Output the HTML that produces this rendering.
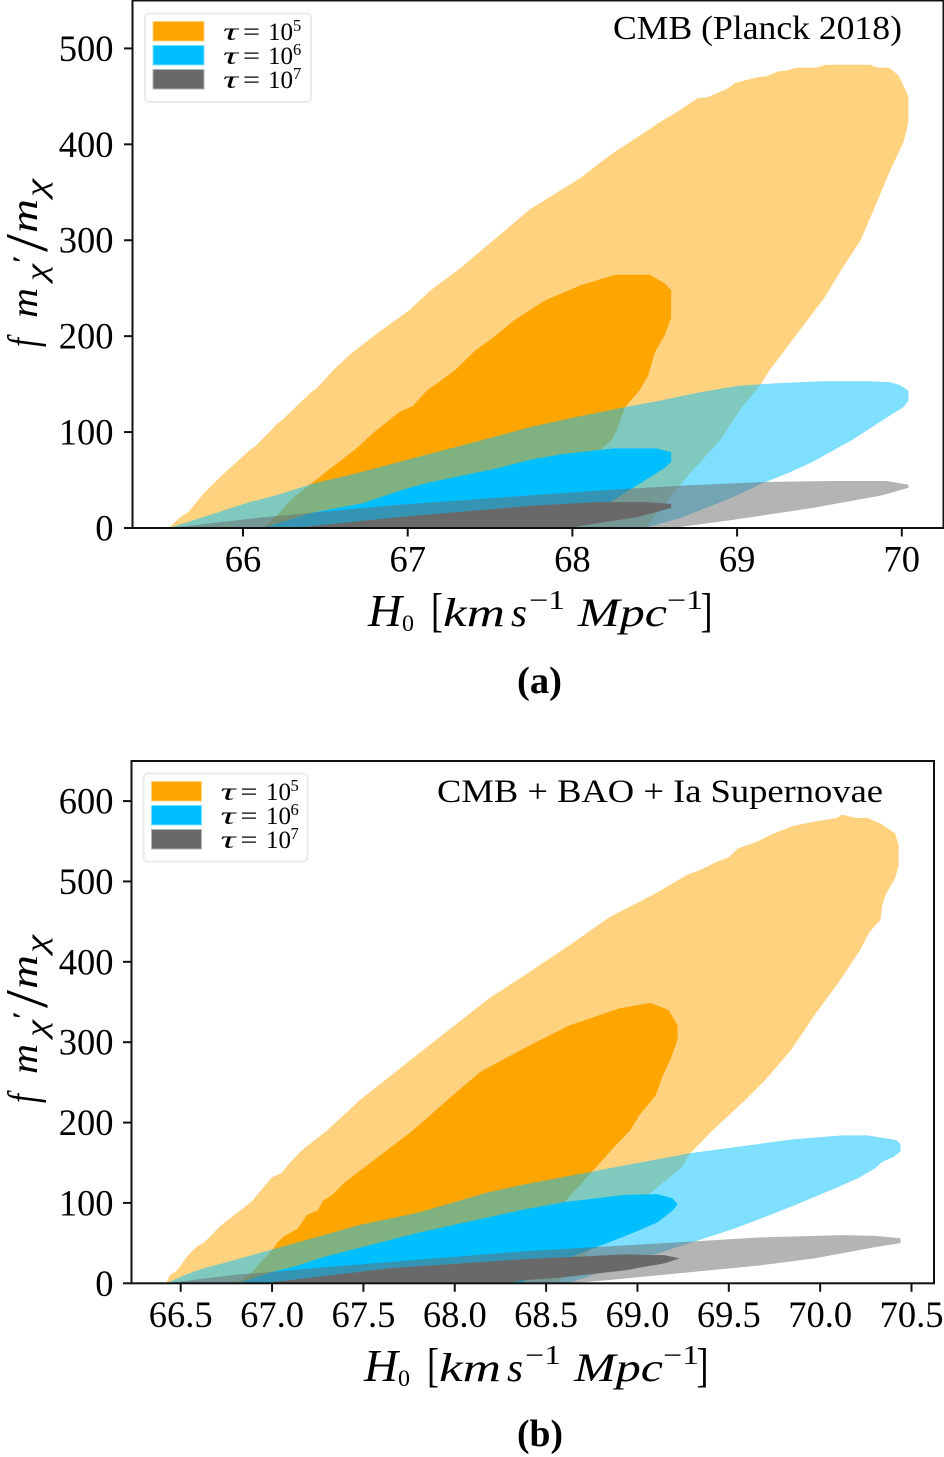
<!DOCTYPE html>
<html lang="en">
<head>
<meta charset="utf-8">
<title>Allowed regions of f m_chi'/m_chi versus H0</title>
<style>
html,body{margin:0;padding:0;background:#fff;}
svg{display:block;}
text{font-family:"Liberation Serif",serif;fill:#000;}
.i{font-style:italic;}
</style>
</head>
<body>
<svg id="figure" xmlns="http://www.w3.org/2000/svg" width="944" height="1457" viewBox="0 0 944 1457">
  <rect x="0" y="0" width="944" height="1457" fill="#fff"/>

  <g id="panel-a"><g id="a-marks"></g><g id="a-axes"></g></g>
  <g id="panel-b"><g id="b-marks"></g><g id="b-axes"></g></g>

  <!-- Panel a legend -->
  <g>
    <rect x="145" y="13.5" width="166" height="88.5" rx="4" fill="#fff" stroke="#ebebeb" stroke-width="2"/>
    <rect x="153" y="21.5" width="51" height="19.5" fill="#ffa500" stroke="#ffd280"/>
    <rect x="153" y="45.5" width="51" height="19.5" fill="#00bfff" stroke="#7fdfff"/>
    <rect x="153" y="69.5" width="51" height="19.5" fill="#696969" stroke="#b4b4b4"/>
    <g font-size="25">
      <text class="i" x="223" y="40" textLength="15" lengthAdjust="spacingAndGlyphs">τ</text>
      <text x="243" y="40" textLength="17" lengthAdjust="spacingAndGlyphs">=</text>
      <text x="268" y="40" textLength="25" lengthAdjust="spacingAndGlyphs">10</text>
      <text x="293" y="31" font-size="16.5">5</text>
    </g>
    <g font-size="25">
      <text class="i" x="223" y="64" textLength="15" lengthAdjust="spacingAndGlyphs">τ</text>
      <text x="243" y="64" textLength="17" lengthAdjust="spacingAndGlyphs">=</text>
      <text x="268" y="64" textLength="25" lengthAdjust="spacingAndGlyphs">10</text>
      <text x="293" y="55" font-size="16.5">6</text>
    </g>
    <g font-size="25">
      <text class="i" x="223" y="88" textLength="15" lengthAdjust="spacingAndGlyphs">τ</text>
      <text x="243" y="88" textLength="17" lengthAdjust="spacingAndGlyphs">=</text>
      <text x="268" y="88" textLength="25" lengthAdjust="spacingAndGlyphs">10</text>
      <text x="293" y="79" font-size="16.5">7</text>
    </g>
  </g>
  <text x="613" y="39" font-size="34" textLength="289" lengthAdjust="spacingAndGlyphs">CMB (Planck 2018)</text>

  <!-- Panel b legend -->
  <g>
    <rect x="143.5" y="773.5" width="164" height="88" rx="4" fill="#fff" stroke="#ebebeb" stroke-width="2"/>
    <rect x="151.5" y="781.5" width="50" height="19.5" fill="#ffa500" stroke="#ffd280"/>
    <rect x="151.5" y="805.5" width="50" height="19.5" fill="#00bfff" stroke="#7fdfff"/>
    <rect x="151.5" y="829.5" width="50" height="19.5" fill="#696969" stroke="#b4b4b4"/>
    <g font-size="25">
      <text class="i" x="220.5" y="800" textLength="15" lengthAdjust="spacingAndGlyphs">τ</text>
      <text x="240.5" y="800" textLength="17" lengthAdjust="spacingAndGlyphs">=</text>
      <text x="266" y="800" textLength="25" lengthAdjust="spacingAndGlyphs">10</text>
      <text x="290.5" y="791" font-size="16.5">5</text>
    </g>
    <g font-size="25">
      <text class="i" x="220.5" y="824" textLength="15" lengthAdjust="spacingAndGlyphs">τ</text>
      <text x="240.5" y="824" textLength="17" lengthAdjust="spacingAndGlyphs">=</text>
      <text x="266" y="824" textLength="25" lengthAdjust="spacingAndGlyphs">10</text>
      <text x="290.5" y="815" font-size="16.5">6</text>
    </g>
    <g font-size="25">
      <text class="i" x="220.5" y="848" textLength="15" lengthAdjust="spacingAndGlyphs">τ</text>
      <text x="240.5" y="848" textLength="17" lengthAdjust="spacingAndGlyphs">=</text>
      <text x="266" y="848" textLength="25" lengthAdjust="spacingAndGlyphs">10</text>
      <text x="290.5" y="839" font-size="16.5">7</text>
    </g>
  </g>
  <text x="437" y="802" font-size="33" textLength="446" lengthAdjust="spacingAndGlyphs">CMB + BAO + Ia Supernovae</text>

  <!-- Panel a x title -->
  <g>
    <text class="i" x="368" y="626" font-size="46" textLength="34" lengthAdjust="spacingAndGlyphs">H</text>
    <text x="402" y="631" font-size="23" textLength="12" lengthAdjust="spacingAndGlyphs">0</text>
    <text x="431" y="626" font-size="48" textLength="12" lengthAdjust="spacingAndGlyphs">[</text>
    <text class="i" x="443" y="626" font-size="40" textLength="62" lengthAdjust="spacingAndGlyphs">km</text>
    <text class="i" x="511" y="626" font-size="40" textLength="16" lengthAdjust="spacingAndGlyphs">s</text>
    <text x="529" y="609" font-size="27" textLength="36" lengthAdjust="spacingAndGlyphs">−1</text>
    <text class="i" x="578" y="626" font-size="40" textLength="89" lengthAdjust="spacingAndGlyphs">Mpc</text>
    <text x="667" y="609" font-size="27" textLength="36" lengthAdjust="spacingAndGlyphs">−1</text>
    <text x="700.5" y="626" font-size="48" textLength="12" lengthAdjust="spacingAndGlyphs">]</text>
  </g>
  <!-- Panel b x title -->
  <g transform="translate(-4,755)">
    <text class="i" x="368" y="626" font-size="46" textLength="34" lengthAdjust="spacingAndGlyphs">H</text>
    <text x="402" y="631" font-size="23" textLength="12" lengthAdjust="spacingAndGlyphs">0</text>
    <text x="431" y="626" font-size="48" textLength="12" lengthAdjust="spacingAndGlyphs">[</text>
    <text class="i" x="443" y="626" font-size="40" textLength="62" lengthAdjust="spacingAndGlyphs">km</text>
    <text class="i" x="511" y="626" font-size="40" textLength="16" lengthAdjust="spacingAndGlyphs">s</text>
    <text x="529" y="609" font-size="27" textLength="36" lengthAdjust="spacingAndGlyphs">−1</text>
    <text class="i" x="578" y="626" font-size="40" textLength="89" lengthAdjust="spacingAndGlyphs">Mpc</text>
    <text x="667" y="609" font-size="27" textLength="36" lengthAdjust="spacingAndGlyphs">−1</text>
    <text x="700.5" y="626" font-size="48" textLength="12" lengthAdjust="spacingAndGlyphs">]</text>
  </g>

  <!-- Panel a y title -->
  <g transform="translate(37,352) rotate(-90)">
    <text class="i" x="5" y="0" font-size="42" textLength="9" lengthAdjust="spacingAndGlyphs">f</text>
    <text class="i" x="34" y="0" font-size="38" textLength="30" lengthAdjust="spacingAndGlyphs">m</text>
    <text class="i" x="71" y="9" font-size="30" textLength="17" lengthAdjust="spacingAndGlyphs">χ</text>
    <text x="89" y="-6" font-size="26" textLength="8" lengthAdjust="spacingAndGlyphs">′</text>
    <text x="100" y="10" font-size="60" textLength="18" lengthAdjust="spacingAndGlyphs">/</text>
    <text class="i" x="119" y="0" font-size="38" textLength="34" lengthAdjust="spacingAndGlyphs">m</text>
    <text class="i" x="155" y="9" font-size="30" textLength="18" lengthAdjust="spacingAndGlyphs">χ</text>
  </g>
  <!-- Panel b y title -->
  <g transform="translate(37,1108) rotate(-90)">
    <text class="i" x="5" y="0" font-size="42" textLength="9" lengthAdjust="spacingAndGlyphs">f</text>
    <text class="i" x="34" y="0" font-size="38" textLength="30" lengthAdjust="spacingAndGlyphs">m</text>
    <text class="i" x="71" y="9" font-size="30" textLength="17" lengthAdjust="spacingAndGlyphs">χ</text>
    <text x="89" y="-6" font-size="26" textLength="8" lengthAdjust="spacingAndGlyphs">′</text>
    <text x="100" y="10" font-size="60" textLength="18" lengthAdjust="spacingAndGlyphs">/</text>
    <text class="i" x="119" y="0" font-size="38" textLength="34" lengthAdjust="spacingAndGlyphs">m</text>
    <text class="i" x="155" y="9" font-size="30" textLength="18" lengthAdjust="spacingAndGlyphs">χ</text>
  </g>

  <text x="517" y="693" font-size="38" font-weight="bold" textLength="45" lengthAdjust="spacingAndGlyphs">(a)</text>
  <text x="517" y="1446" font-size="38" font-weight="bold" textLength="46" lengthAdjust="spacingAndGlyphs">(b)</text>
</svg>

<script>
// ---------- Panel (a): CMB (Planck 2018) ----------
const aXTicks = [66, 67, 68, 69, 70];
const aYTicks = [0, 100, 200, 300, 400, 500];

const aOrangeOuterH0 = [65.55,65.61,65.67,65.76,65.86,65.93,66.04,66.08,66.21,66.24,66.41,66.45,66.55,66.65,66.83,67.01,67.14,67.32,67.50,67.74,68.05,68.23,68.47,68.52,68.62,68.76,68.82,68.94,68.99,69.12,69.18,69.25,69.30,69.36,69.48,69.54,69.81,69.85,69.92,69.98,70.04,70.04,70.03,70.01,69.93,69.84,69.75,69.65,69.53,69.38,69.20,69.14,69.03,68.90,68.73,68.61,68.45,68.44];
const aOrangeOuterF  = [0,10,17,36,53,64,81,86,109,113,141,146,165,181,205,227,248,271,297,332,365,389,416,422,432,448,449,458,464,470,471,476,477,480,480,483,483,480,480,472,450,425,415,402,373,336,300,274,240,206,165,149,126,92,60,36,1,0];

const aOrangeInnerH0 = [66.12,66.21,66.30,66.42,66.53,66.69,66.79,66.95,67.03,67.12,67.18,67.29,67.41,67.50,67.65,67.83,68.05,68.26,68.47,68.56,68.60,68.60,68.56,68.50,68.46,68.41,68.32,68.27,68.24,68.17,67.95,67.77];
const aOrangeInnerF  = [0,14,31,47,62,83,99,121,127,144,151,165,185,196,217,237,253,264,264,255,248,219,201,183,159,144,126,102,92,81,40,0];

const aBlueOuterH0 = [65.55,65.86,66.02,66.22,66.42,66.69,67.06,67.26,67.46,67.74,68.00,68.32,68.51,68.76,69.00,69.24,69.52,69.81,69.93,69.99,70.04,70.04,70.01,69.88,69.70,69.46,69.32,69.16,68.96,68.65,68.46,68.44];
const aBlueOuterF  = [0,17,26,35,46,57,74,83,92,105,115,126,132,141,148,151,153,153,152,149,143,133,126,112,92,69,58,47,31,10,1,0];

const aBlueInnerH0 = [66.12,66.42,66.73,66.97,67.12,67.34,67.54,67.74,67.94,68.25,68.51,68.60,68.60,68.57,68.49,68.37,68.23,67.97,67.95];
const aBlueInnerF  = [0,16,26,40,47,55,62,71,77,83,83,79,69,64,55,42,27,1,0];

const aGreyOuterH0 = [65.55,66.12,66.42,66.93,67.74,68.25,68.65,69.16,69.56,69.91,70.04,70.04,69.88,69.46,68.96,68.65,68.51];
const aGreyOuterF  = [0,11,16,24,34,40,44,48,49,49,45,42,34,21,8,1,0];

const aGreyInnerH0 = [66.30,66.93,67.74,68.15,68.45,68.60,68.60,68.39,68.15,67.97];
const aGreyInnerF  = [0,11,23,27,27,25,21,11,5,0];

// ---------- Panel (b): CMB + BAO + Ia Supernovae ----------
const bXTicks = [66.5, 67.0, 67.5, 68.0, 68.5, 69.0, 69.5, 70.0, 70.5];
const bXTickLabels = ["66.5", "67.0", "67.5", "68.0", "68.5", "69.0", "69.5", "70.0", "70.5"];
const bYTicks = [0, 100, 200, 300, 400, 500, 600];

const bOrangeOuterH0 = [66.42,66.44,66.48,66.54,66.59,66.63,66.72,66.89,66.94,67.00,67.05,67.09,67.16,67.30,67.48,67.62,67.86,68.00,68.19,68.36,68.63,68.85,69.09,69.27,69.35,69.44,69.50,69.55,69.66,69.73,69.85,69.98,70.09,70.12,70.20,70.26,70.33,70.35,70.41,70.43,70.43,70.41,70.36,70.34,70.33,70.27,70.22,70.11,69.97,69.84,69.70,69.59,69.41,69.29,69.24,69.06,68.82,68.63,68.56];
const bOrangeOuterF  = [0,10,16,35,46,51,72,102,116,132,137,148,165,190,228,253,296,321,355,380,421,456,484,508,515,525,530,541,550,558,569,575,579,583,579,579,572,569,560,545,520,504,484,471,452,437,415,377,334,290,253,228,190,162,144,110,60,16,0];

const bOrangeInnerH0 = [66.81,66.89,67.01,67.03,67.07,67.14,67.19,67.25,67.28,67.33,67.40,67.77,67.97,68.14,68.41,68.63,68.90,69.07,69.17,69.22,69.22,69.18,69.14,69.10,69.01,68.96,68.87,68.76,68.60,68.38,68.22];
const bOrangeInnerF  = [0,14,44,51,59,68,85,91,103,110,126,190,230,263,296,321,342,349,340,321,303,278,259,234,209,190,169,141,101,47,0];

const bBlueOuterH0 = [66.42,66.54,66.63,66.73,67.00,67.33,67.47,67.80,68.18,68.38,68.75,69.29,69.52,69.85,70.12,70.26,70.42,70.44,70.44,70.40,70.34,70.30,70.21,70.10,69.86,69.68,69.53,69.30,68.96,68.62];
const bBlueOuterF  = [0,12,19,25,42,63,72,88,113,123,139,162,169,179,184,184,178,173,164,157,151,143,131,120,97,81,68,51,26,0];

const bBlueInnerH0 = [66.81,67.00,67.14,67.27,67.80,68.38,68.60,68.93,69.11,69.19,69.22,69.19,69.11,69.02,68.88,68.66,68.47,68.36];
const bBlueInnerF  = [0,14,22,32,63,92,101,110,111,106,98,90,76,67,54,35,12,0];

const bGreyOuterH0 = [66.42,66.81,67.00,67.29,68.38,68.77,69.30,69.66,70.12,70.30,70.44,70.44,70.30,69.97,69.66,69.30,68.84,68.63];
const bGreyOuterF  = [0,11,14,20,40,45,52,57,60,59,56,50,45,31,22,14,4,0];

const bGreyInnerH0 = [66.95,67.66,68.38,68.75,68.93,69.15,69.23,69.15,68.93,68.57,68.38,68.27];
const bGreyInnerF  = [0,19,30,34,36,35,31,25,16,7,4,0];

const SVG_NS = "http://www.w3.org/2000/svg";

// Axis scales (data -> pixels)
const aXScale = function (v) { return 243 + (v - 66) * 164.7; };
const aYScale = function (v) { return 528 - v * 0.9592; };
const bXScale = function (v) { return 180.7 + (v - 66.5) * 182.7; };
const bYScale = function (v) { return 1283.3 - v * 0.8037; };

function drawRegion(groupId, xs, ys, xScale, yScale, fill, opacity, name) {
  const pts = xs.map(function (x, i) {
    return xScale(x).toFixed(1) + "," + yScale(ys[i]).toFixed(1);
  }).join(" ");
  const poly = document.createElementNS(SVG_NS, "polygon");
  poly.setAttribute("points", pts);
  poly.setAttribute("fill", fill);
  poly.setAttribute("fill-opacity", opacity);
  
  
  document.getElementById(groupId).appendChild(poly);
}

function drawAxes(groupId, box, xTicks, xLabels, yTicks, xScale, yScale) {
  const g = document.getElementById(groupId);

  const frame = document.createElementNS(SVG_NS, "rect");
  frame.setAttribute("x", box.left);
  frame.setAttribute("y", box.top);
  frame.setAttribute("width", box.right - box.left);
  frame.setAttribute("height", box.bottom - box.top);
  frame.setAttribute("fill", "none");
  frame.setAttribute("stroke", "#111");
  frame.setAttribute("stroke-width", "2");
  
  
  g.appendChild(frame);

  xTicks.forEach(function (t, i) {
    const px = xScale(t);
    const tick = document.createElementNS(SVG_NS, "line");
    tick.setAttribute("x1", px);
    tick.setAttribute("x2", px);
    tick.setAttribute("y1", box.bottom);
    tick.setAttribute("y2", box.bottom + 8.5);
    tick.setAttribute("stroke", "#111");
    tick.setAttribute("stroke-width", "2");
    
    
    g.appendChild(tick);

    const label = document.createElementNS(SVG_NS, "text");
    label.setAttribute("x", px);
    label.setAttribute("y", box.bottom + 43.5);
    label.setAttribute("font-size", "36.5");
    label.setAttribute("text-anchor", "middle");
    
    
    label.textContent = xLabels[i];
    g.appendChild(label);
  });

  yTicks.forEach(function (t) {
    const py = yScale(t);
    const tick = document.createElementNS(SVG_NS, "line");
    tick.setAttribute("x1", box.left);
    tick.setAttribute("x2", box.left - 8.5);
    tick.setAttribute("y1", py);
    tick.setAttribute("y2", py);
    tick.setAttribute("stroke", "#111");
    tick.setAttribute("stroke-width", "2");
    
    
    g.appendChild(tick);

    const label = document.createElementNS(SVG_NS, "text");
    label.setAttribute("x", 113.5);
    label.setAttribute("y", py + 12.5);
    label.setAttribute("font-size", "36.5");
    label.setAttribute("text-anchor", "end");
    
    
    label.textContent = String(t);
    g.appendChild(label);
  });
}

const ORANGE = "#ffa500", BLUE = "#00bfff", GREY = "#696969";

drawRegion("a-marks", aOrangeOuterH0, aOrangeOuterF, aXScale, aYScale, ORANGE, 0.5, "tau-1e5-outer-contour");
drawRegion("a-marks", aOrangeInnerH0, aOrangeInnerF, aXScale, aYScale, ORANGE, 1, "tau-1e5-inner-contour");
drawRegion("a-marks", aBlueOuterH0, aBlueOuterF, aXScale, aYScale, BLUE, 0.5, "tau-1e6-outer-contour");
drawRegion("a-marks", aBlueInnerH0, aBlueInnerF, aXScale, aYScale, BLUE, 1, "tau-1e6-inner-contour");
drawRegion("a-marks", aGreyOuterH0, aGreyOuterF, aXScale, aYScale, GREY, 0.5, "tau-1e7-outer-contour");
drawRegion("a-marks", aGreyInnerH0, aGreyInnerF, aXScale, aYScale, GREY, 1, "tau-1e7-inner-contour");

drawRegion("b-marks", bOrangeOuterH0, bOrangeOuterF, bXScale, bYScale, ORANGE, 0.5, "tau-1e5-outer-contour");
drawRegion("b-marks", bOrangeInnerH0, bOrangeInnerF, bXScale, bYScale, ORANGE, 1, "tau-1e5-inner-contour");
drawRegion("b-marks", bBlueOuterH0, bBlueOuterF, bXScale, bYScale, BLUE, 0.5, "tau-1e6-outer-contour");
drawRegion("b-marks", bBlueInnerH0, bBlueInnerF, bXScale, bYScale, BLUE, 1, "tau-1e6-inner-contour");
drawRegion("b-marks", bGreyOuterH0, bGreyOuterF, bXScale, bYScale, GREY, 0.5, "tau-1e7-outer-contour");
drawRegion("b-marks", bGreyInnerH0, bGreyInnerF, bXScale, bYScale, GREY, 1, "tau-1e7-inner-contour");

drawAxes("a-axes", {left: 132.5, right: 943.5, top: 0.5, bottom: 528}, aXTicks, aXTicks.map(String), aYTicks, aXScale, aYScale);
drawAxes("b-axes", {left: 131.5, right: 934, top: 761, bottom: 1283.3}, bXTicks, bXTickLabels, bYTicks, bXScale, bYScale);
</script>
</body>
</html>
